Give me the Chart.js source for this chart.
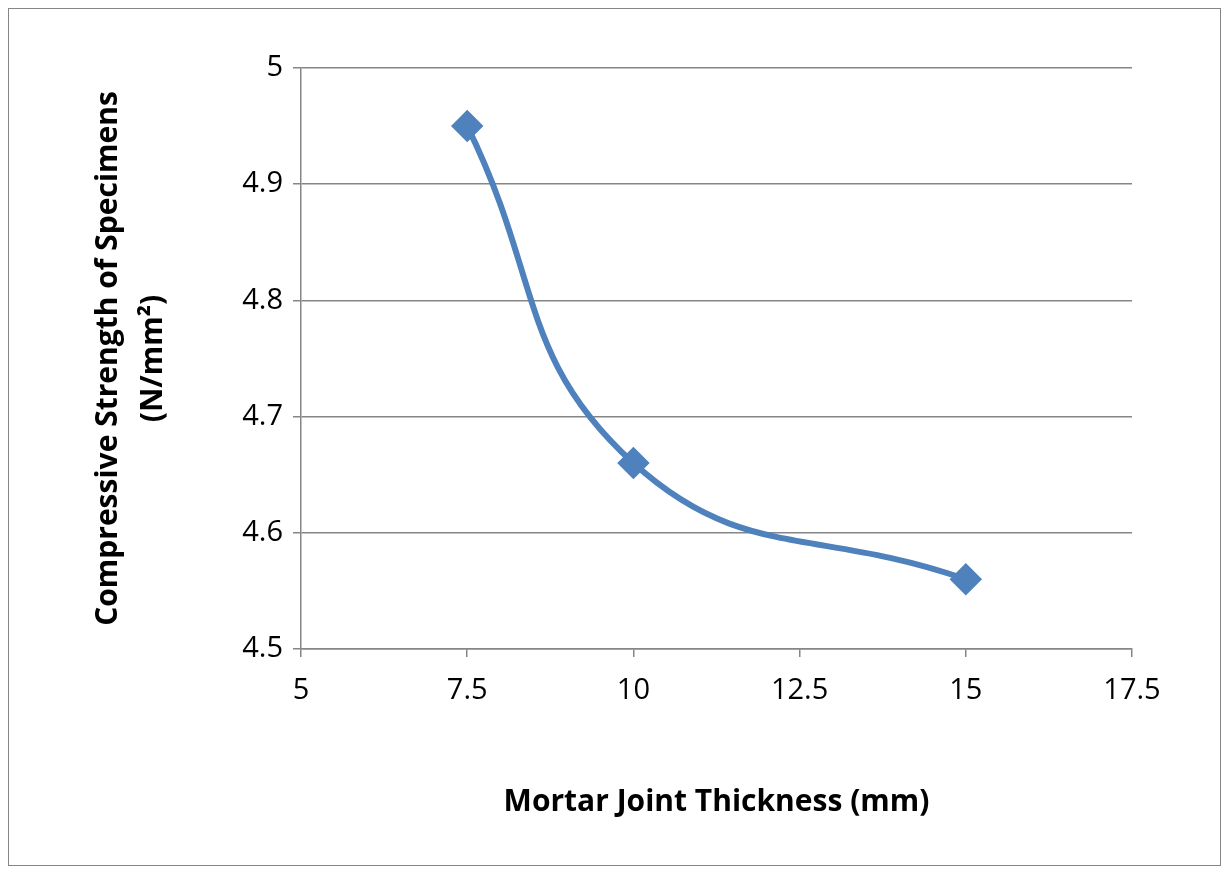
<!DOCTYPE html>
<html><head><meta charset="utf-8">
<script src="https://cdn.jsdelivr.net/npm/chart.js@4"></script>
<style>
body{margin:0;background:#fff;}
#frame{position:absolute;left:8px;top:8px;width:1211px;height:856px;border:1.5px solid #868686;}
#wrap{position:absolute;left:0;top:0;width:1228px;height:872px;}
</style></head><body>
<div id="frame"></div>
<div id="wrap"><canvas id="c" width="1228" height="872"></canvas></div>
<script>
// Espesor de junta vs resistencia a compresión
const thickness = [7.5, 10, 15];
const strength = [4.95, 4.66, 4.56];
const xTitle = "Mortar Joint Thickness (mm)";
const yTitle = ["Compressive Strength of Specimens", "(N/mm²)"];

const FONT = "'Open Sans', 'Liberation Sans', sans-serif";
const BLUE = "#4F81BD";

new Chart(document.getElementById("c"), {
  type: "scatter",
  data: { datasets: [{
    data: thickness.map((x, i) => ({ x, y: strength[i] })),
    showLine: true, borderColor: BLUE, backgroundColor: BLUE, borderWidth: 6,
    tension: 0.45, pointStyle: "rectRot", pointRadius: 12, pointHoverRadius: 12,
  }] },
  options: {
    responsive: false, animation: false,
    layout: { padding: { top: 68, right: 96, left: 0, bottom: 0 } },
    plugins: { legend: { display: false }, tooltip: { enabled: false } },
    scales: {
      x: {
        type: "linear", min: 5, max: 17.5,
        ticks: { stepSize: 2.5, color: "#000", font: { family: FONT, size: 29 }, padding: 16 },
        grid: { drawOnChartArea: false, color: "#868686", tickLength: 8, lineWidth: 1.5 },
        border: { color: "#868686", width: 1.5 },
        title: { display: true, text: xTitle, color: "#000", font: { family: FONT, size: 30, weight: "bold" }, padding: { top: 10, bottom: 52 } },
        afterFit: (s) => { s.height = 872 - 649; },
      },
      y: {
        min: 4.5, max: 5,
        ticks: { stepSize: 0.1, color: "#000", font: { family: FONT, size: 29 }, padding: 10,
          callback: (v) => (Math.abs(v - 5) < 1e-9 ? "5" : v.toFixed(1)) },
        grid: { color: "#868686", tickLength: 8, lineWidth: 1.5 },
        border: { color: "#868686", width: 1.5 },
        title: { display: true, text: yTitle, color: "#000", font: { family: FONT, size: 30, weight: "bold", lineHeight: 1.5 }, padding: { top: 86 } },
        afterFit: (s) => { s.width = 301; },
      },
    },
  },
});
</script>
</body></html>
